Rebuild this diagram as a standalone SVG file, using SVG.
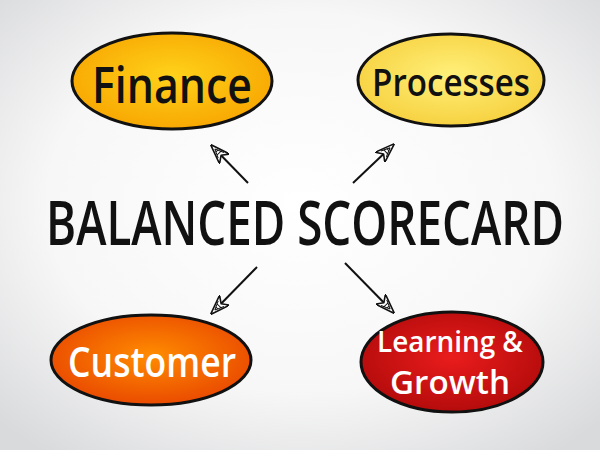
<svg xmlns="http://www.w3.org/2000/svg" width="600" height="450" viewBox="0 0 600 450">
<defs>
<radialGradient id="bg" cx="50%" cy="45%" r="70%">
<stop offset="0" stop-color="#ffffff"/><stop offset="0.6" stop-color="#f7f7f7"/><stop offset="1" stop-color="#d9dadc"/>
</radialGradient>
<radialGradient id="gFin" cx="50%" cy="45%" r="60%">
<stop offset="0" stop-color="#ffd21a"/><stop offset="1" stop-color="#f7a400"/>
</radialGradient>
<radialGradient id="gPro" cx="50%" cy="45%" r="60%">
<stop offset="0" stop-color="#fff07a"/><stop offset="1" stop-color="#f6cf3c"/>
</radialGradient>
<radialGradient id="gCus" cx="50%" cy="45%" r="60%">
<stop offset="0" stop-color="#ff8c00"/><stop offset="1" stop-color="#e84500"/>
</radialGradient>
<radialGradient id="gLea" cx="50%" cy="45%" r="60%">
<stop offset="0" stop-color="#ea1c1c"/><stop offset="1" stop-color="#b00a0a"/>
</radialGradient>
<marker id="ah" viewBox="0 0 20 14" refX="18" refY="7" markerWidth="20" markerHeight="14" markerUnits="userSpaceOnUse" orient="auto">
<path d="M0,0 L20,7 L0,14 L5,7 Z" fill="#ffffff" stroke="#111" stroke-width="1.6" stroke-linejoin="round"/>
<path d="M5,3 L14,7 M5,11 L14,7 M8,4 L8,10 M11,5 L11,9" stroke="#111" stroke-width="1"/>
</marker>
<style>
.node ellipse{stroke:#111;stroke-width:3}
.lbl{font-family:"Open Sans","DejaVu Sans",sans-serif;font-weight:bold;text-anchor:middle}
.conn line{stroke:#111;stroke-width:2;marker-end:url(#ah)}
</style>
</defs>
<rect width="600" height="450" fill="url(#bg)"/>
<g class="conn">
<line x1="248" y1="183" x2="212" y2="146"/>
<line x1="353" y1="183" x2="393" y2="145"/>
<line x1="257" y1="267" x2="212" y2="313"/>
<line x1="345" y1="263" x2="393" y2="312"/>
</g>
<g id="title" transform="translate(305,245) scale(1,1.4)">
<text x="0" y="0" class="lbl" font-size="44" fill="#111" textLength="518" lengthAdjust="spacingAndGlyphs" style="font-weight:600">BALANCED SCORECARD</text>
</g>
<g id="finance" class="node">
<ellipse cx="172" cy="81" rx="100" ry="48" fill="url(#gFin)"/>
<text x="172" y="103" class="lbl" font-size="50" fill="#111" textLength="160" lengthAdjust="spacingAndGlyphs" style="font-weight:600">Finance</text>
</g>
<g id="processes" class="node">
<ellipse cx="451" cy="80" rx="93" ry="46" fill="url(#gPro)"/>
<text x="451" y="96" class="lbl" font-size="38" fill="#111" textLength="158" lengthAdjust="spacingAndGlyphs" style="font-weight:600">Processes</text>
</g>
<g id="customer" class="node">
<ellipse cx="151" cy="360" rx="100" ry="45" fill="url(#gCus)"/>
<text x="152" y="377" class="lbl" font-size="42" fill="#fff" textLength="168" lengthAdjust="spacingAndGlyphs" style="font-weight:600">Customer</text>
</g>
<g id="learning" class="node">
<ellipse cx="452" cy="362" rx="91" ry="50" fill="url(#gLea)"/>
<text x="450" y="352" class="lbl" font-size="28" fill="#fff" textLength="146" lengthAdjust="spacingAndGlyphs" style="font-weight:600">Learning &amp;</text>
<text x="450" y="394" class="lbl" font-size="32" fill="#fff" textLength="120" lengthAdjust="spacingAndGlyphs" style="font-weight:600">Growth</text>
</g>
</svg>
